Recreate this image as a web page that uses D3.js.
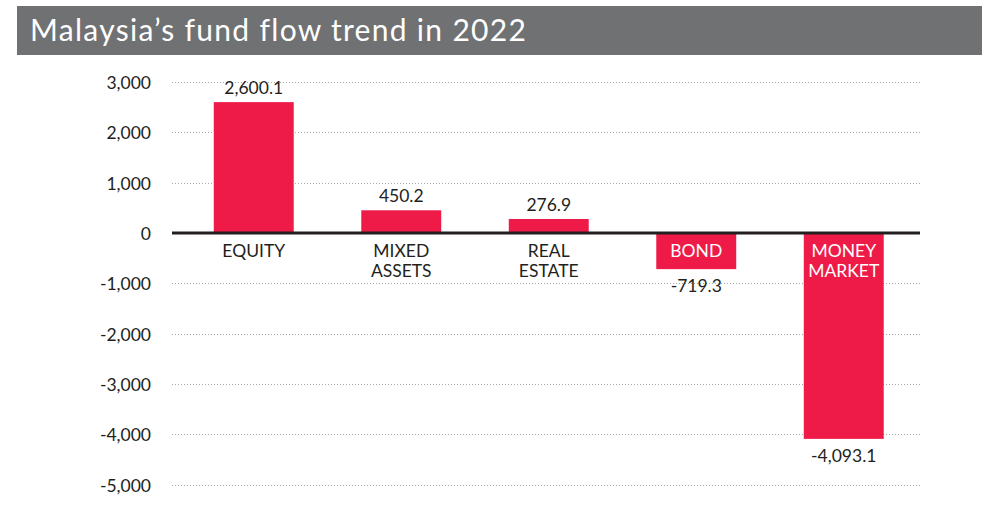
<html>
<head>
<meta charset="utf-8">
<script src="https://cdn.jsdelivr.net/npm/d3@7"></script>
<style>
body {
	margin: 0;
	background: #fff;
}
text {
	font-family: Lato, "Open Sans", sans-serif;
}
.grid line {
	stroke: #a8a8a8;
	stroke-width: 1;
	stroke-dasharray: 1,2;
}
.y-axis path, .y-axis line {
	display: none;
}
</style>
</head>
<body>
<svg id="chart" width="999" height="505"></svg>
<script>
// 数据
var categories = [["EQUITY"], ["MIXED", "ASSETS"], ["REAL", "ESTATE"], ["BOND"], ["MONEY", "MARKET"]];
var values = [2600.1, 450.2, 276.9, -719.3, -4093.1];
var labels = ["2,600.1", "450.2", "276.9", "-719.3", "-4,093.1"];
var ticks = [3000, 2000, 1000, 0, -1000, -2000, -3000, -4000, -5000];
var title = "Malaysia\u2019s fund flow trend in 2022";

var svg = d3.select("#chart");
var barColor = "#ee1a48";
var textColor = "#231f20";
var fs = 17.5;

// 标题栏
svg.append("rect")
	.attr("x", 17).attr("y", 6)
	.attr("width", 965).attr("height", 49)
	.attr("fill", "#707173");
svg.append("text")
	.text(title)
	.attr("x", 30).attr("y", 41)
	.attr("fill", "#fff")
	.attr("font-size", 30)
	.attr("letter-spacing", 1.3);

var x = d3.scaleBand()
	.domain(d3.range(values.length))
	.range([180, 917.5])
	.paddingInner(0.458)
	.paddingOuter(0.229);

var y = d3.scaleLinear()
	.domain([-5000, 3000])
	.range([484.5, 82]);

// 网格线
svg.append("g").attr("class", "grid")
	.selectAll("line")
	.data(ticks.filter(function(d){ return d != 0; }))
	.enter().append("line")
	.attr("x1", 172).attr("x2", 922)
	.attr("y1", function(d){ return Math.round(y(d)) + 0.5; })
	.attr("y2", function(d){ return Math.round(y(d)) + 0.5; });

// y轴
var yAxis = svg.append("g")
	.attr("class", "y-axis")
	.attr("transform", "translate(151,0)")
	.call(d3.axisLeft(y).tickValues(ticks).tickSize(0).tickPadding(0)
		.tickFormat(function(d){ return d3.format(",")(d).replace("\u2212", "-"); }));
yAxis.selectAll("text")
	.attr("font-size", fs)
	.attr("fill", textColor)
	.attr("dy", 6.5);

// 柱子
svg.selectAll(".bar")
	.data(values)
	.enter().append("rect")
	.attr("class", "bar")
	.attr("x", function(d, i){ return x(i); })
	.attr("y", function(d){ return y(Math.max(0, d)); })
	.attr("width", x.bandwidth())
	.attr("height", function(d){ return Math.abs(y(d) - y(0)); })
	.attr("fill", barColor);

// 零线
svg.append("line")
	.attr("x1", 172).attr("x2", 920)
	.attr("y1", y(0)).attr("y2", y(0))
	.attr("stroke", textColor)
	.attr("stroke-width", 3);

// 数值标签
svg.selectAll(".val")
	.data(values)
	.enter().append("text")
	.attr("class", "val")
	.text(function(d, i){ return labels[i]; })
	.attr("x", function(d, i){ return x(i) + x.bandwidth() / 2; })
	.attr("y", function(d){ return d >= 0 ? y(d) - 8 : y(d) + 23; })
	.attr("text-anchor", "middle")
	.attr("font-size", fs)
	.attr("fill", textColor);

// 类别标签
categories.forEach(function(lines, i){
	lines.forEach(function(s, j){
		svg.append("text")
			.attr("x", x(i) + x.bandwidth() / 2)
			.attr("y", y(0) + 24 + j * 20)
			.attr("text-anchor", "middle")
			.attr("font-size", fs)
			.attr("fill", values[i] < 0 ? "#fff" : textColor)
			.text(s);
	});
});
</script>
</body>
</html>
